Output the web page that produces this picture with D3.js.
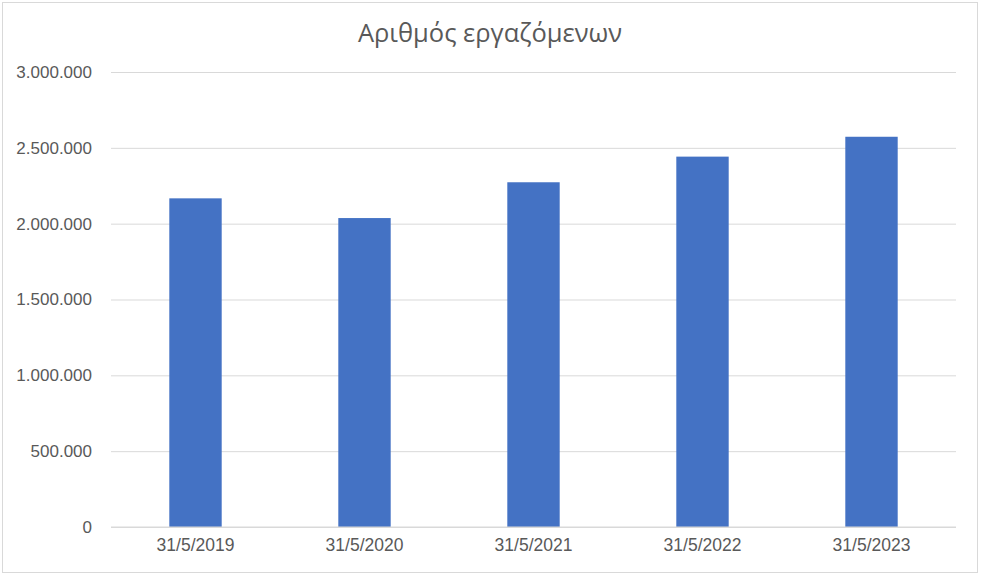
<!DOCTYPE html>
<html>
<head>
<meta charset="utf-8">
<script src="https://cdn.jsdelivr.net/npm/d3@7"></script>
<style>
  html, body { margin: 0; padding: 0; background: #fff; }
  svg { display: block; font-family: "Open Sans", sans-serif; }
</style>
</head>
<body>
<div id="chart"></div>
<script>
const categories = ["31/5/2019", "31/5/2020", "31/5/2021", "31/5/2022", "31/5/2023"];
const employees = [2167000, 2037000, 2273000, 2442000, 2573000];
const yTicks = [0, 500000, 1000000, 1500000, 2000000, 2500000, 3000000];
const title = "Αριθμός εργαζόμενων";

const width = 982;
const height = 575;
const marginTop = 72;
const marginRight = 26;
const marginBottom = 48;
const marginLeft = 111;

const x = d3.scaleBand()
    .domain(categories)
    .range([marginLeft, width - marginRight])
    .paddingInner(0.69)
    .paddingOuter(0.345);

const y = d3.scaleLinear()
    .domain([0, 3000000])
    .range([height - marginBottom, marginTop]);

const fmt = v => d3.format(",")(v).replace(/,/g, ".");

const svg = d3.select("#chart").append("svg")
    .attr("width", width)
    .attr("height", height)
    .attr("viewBox", [0, 0, width, height]);

// chart frame
svg.append("rect")
    .attr("x", 2.5)
    .attr("y", 2.5)
    .attr("width", 975)
    .attr("height", 570)
    .attr("fill", "#fff")
    .attr("stroke", "#d9d9d9");

// gridlines + y labels
svg.append("g")
    .attr("transform", `translate(${marginLeft},0)`)
    .call(d3.axisLeft(y).tickValues(yTicks).tickFormat(fmt).tickSize(0).tickPadding(19))
    .call(g => g.select(".domain").remove())
    .call(g => g.selectAll(".tick line").clone()
        .attr("x2", width - marginRight - marginLeft)
        .attr("stroke", "#d9d9d9"))
    .call(g => g.selectAll(".tick text")
        .attr("fill", "#595959")
        .attr("font-size", 17));

svg.append("g")
    .selectAll("rect")
    .data(employees)
    .join("rect")
    .attr("x", (d, i) => x(categories[i]))
    .attr("y", d => y(d))
    .attr("width", x.bandwidth())
    .attr("height", d => y(0) - y(d))
    .attr("fill", "#4472c4");

// x axis
svg.append("g")
    .attr("transform", `translate(0,${height - marginBottom})`)
    .call(d3.axisBottom(x).tickSize(0).tickPadding(12))
    .call(g => g.select(".domain").remove())
    .call(g => g.selectAll(".tick text")
        .attr("fill", "#595959")
        .attr("font-size", 17.5));

svg.append("line")
    .attr("x1", marginLeft)
    .attr("x2", width - marginRight)
    .attr("y1", y(0))
    .attr("y2", y(0))
    .attr("stroke", "#d9d9d9");

svg.append("text")
    .attr("x", 490)
    .attr("y", 42)
    .attr("text-anchor", "middle")
    .attr("fill", "#595959")
    .attr("font-size", 25.5)
    .text(title);
</script>
</body>
</html>
